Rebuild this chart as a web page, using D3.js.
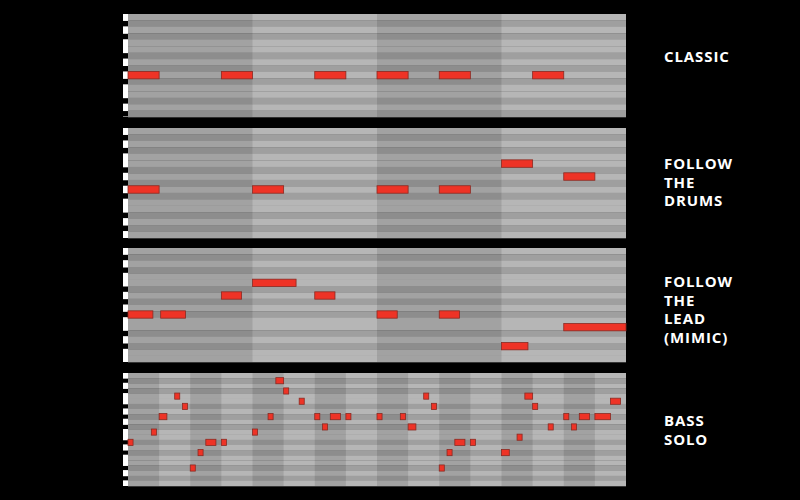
<!DOCTYPE html>
<html><head><meta charset="utf-8">
<script src="https://cdn.jsdelivr.net/npm/d3@7"></script>
<style>body{margin:0;background:#000}svg{display:block}</style>
</head><body>
<svg id="chart" width="800" height="500"></svg>
<script>
// panel labels
const labels = [['CLASSIC'], ['FOLLOW', 'THE', 'DRUMS'], ['FOLLOW', 'THE', 'LEAD', '(MIMIC)'], ['BASS', 'SOLO']];
// notes: [start step, pitch row from top, duration in steps]
const classicNotes = [[0, 9, 2], [6, 9, 2], [12, 9, 2], [16, 9, 2], [20, 9, 2], [26, 9, 2]];
const drumsNotes = [[0, 9, 2], [8, 9, 2], [16, 9, 2], [20, 9, 2], [24, 5, 2], [28, 7, 2]];
const leadNotes = [[0, 10, 1.6], [2.1, 10, 1.6], [6, 7, 1.3], [8, 5, 2.8], [12, 7, 1.3], [16, 10, 1.3],
  [20, 10, 1.3], [24, 15, 1.7], [28, 12, 4]];
const bassNotes = [[0, 13, .65], [3, 11, .65], [4, 8, 1], [6, 4, .65], [7, 6, .65], [8, 18, .65], [9, 15, .65],
  [10, 13, 1.3], [12, 13, .65], [16, 11, .65], [18, 8, .65], [19, 1, 1], [20, 3, .65], [22, 5, .65],
  [24, 8, .65], [25, 10, .65], [26, 8, 1.3], [28, 8, .65], [32, 8, .65], [35, 8, .65], [36, 10, 1],
  [38, 4, .65], [39, 6, .65], [40, 18, .65], [41, 15, .65], [42, 13, 1.3], [44, 13, .65], [48, 15, 1],
  [50, 12, .65], [51, 4, 1], [52, 6, .65], [54, 10, .65], [56, 8, .65], [57, 10, .65], [58, 8, 1.3],
  [60, 8, 2], [62, 5, 1.3]];

const panels = [
  {y0: 14, y1: 117, rows: 16, steps: 32, sections: 4, labelY: 57, notes: classicNotes},
  {y0: 128, y1: 238, rows: 17, steps: 32, sections: 4, labelY: 164, notes: drumsNotes},
  {y0: 248, y1: 362, rows: 18, steps: 32, sections: 4, labelY: 282, notes: leadNotes},
  {y0: 373, y1: 486, rows: 22, steps: 64, sections: 16, labelY: 421, notes: bassNotes}
];
const blackKey = [false, true, false, true, false, false, true, false, true, false, true, false];

const svg = d3.select('#chart');
const x0 = 128, x1 = 626;

panels.forEach((p, pi) => {
  const g = svg.append('g');
  const x = d3.scaleLinear().domain([0, p.steps]).range([x0, x1]);
  const y = d3.scaleBand().domain(d3.range(p.rows)).range([p.y0, p.y1]);
  const secW = p.steps / p.sections;

  g.selectAll('.row').data(d3.range(p.rows)).join('rect')
    .attr('x', x0).attr('width', x1 - x0)
    .attr('y', d => y(d)).attr('height', y.bandwidth() + 0.3)
    .attr('fill', d => blackKey[d % 12] ? '#9c9c9c' : '#b3b3b3');

  g.selectAll('.sec').data(d3.range(p.sections)).join('rect')
    .attr('x', d => x(d * secW)).attr('width', x(secW) - x0)
    .attr('y', p.y0).attr('height', p.y1 - p.y0)
    .attr('fill', d => d % 2 === 0 ? '#000' : '#fff')
    .attr('opacity', d => d % 2 === 0 ? 0.09 : 0.04);

  // keyboard strip
  g.append('rect').attr('x', 123).attr('width', 5).attr('y', p.y0).attr('height', p.y1 - p.y0).attr('fill', '#fff');
  g.selectAll('.key').data(d3.range(p.rows).filter(d => blackKey[d % 12])).join('rect')
    .attr('x', 123).attr('width', 5)
    .attr('y', d => y(d) + 0.5).attr('height', y.bandwidth() - 1)
    .attr('fill', '#000');

  g.selectAll('.note').data(p.notes).join('rect')
    .attr('x', d => x(d[0])).attr('width', d => x(d[0] + d[2]) - x(d[0]))
    .attr('y', d => y(d[1]) - 0.5).attr('height', y.bandwidth() + 1)
    .attr('fill', '#ee3326').attr('stroke', '#8a2a22').attr('stroke-width', 0.8);

  svg.append('text').attr('x', 664).attr('y', p.labelY)
    .attr('fill', '#fff').attr('font-family', 'Open Sans, sans-serif')
    .attr('font-weight', 700).attr('font-size', 15).attr('letter-spacing', 0.9)
    .selectAll('tspan').data(labels[pi]).join('tspan')
    .attr('x', 664).attr('dy', (d, i) => i === 0 ? '0.35em' : 18.5).text(d => d);
});
</script>
</body></html>
